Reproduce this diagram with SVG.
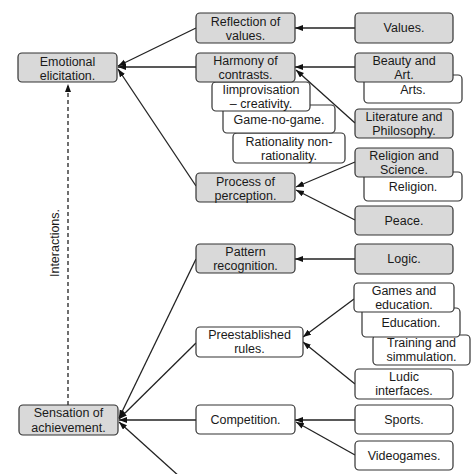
<svg xmlns="http://www.w3.org/2000/svg" width="474" height="474" viewBox="0 0 474 474">
<style>
.g rect{fill:#d9d9d9;stroke:#333;stroke-width:1.2}
.w rect{fill:#fff;stroke:#333;stroke-width:1.2}
text{font-family:"Liberation Sans",Arial,sans-serif;font-size:12.5px;fill:#1a1a1a;text-anchor:middle}
.c line{stroke:#222;stroke-width:1.3;marker-end:url(#ah)}
</style>
<defs>
<marker id="ah" markerUnits="userSpaceOnUse" markerWidth="9" markerHeight="7" refX="8" refY="3" orient="auto"><path d="M0,0 L8,3 L0,6 z" fill="#111"/></marker>
</defs>
<rect width="474" height="474" fill="#fff"/>
<g class="c" id="connectors">
<line x1="68" y1="405" x2="68" y2="84" stroke-dasharray="4,3"/>
<line x1="196" y1="28" x2="118" y2="66"/>
<line x1="196" y1="67" x2="118" y2="67"/>
<line x1="196" y1="186" x2="118" y2="69"/>
<line x1="355" y1="28" x2="295" y2="28"/>
<line x1="355" y1="67" x2="295" y2="67"/>
<line x1="355" y1="123" x2="296" y2="70"/>
<line x1="355" y1="162" x2="296" y2="187"/>
<line x1="355" y1="220" x2="296" y2="190"/>
<line x1="196" y1="259" x2="119" y2="418"/>
<line x1="196" y1="343" x2="119" y2="419"/>
<line x1="196" y1="420" x2="119" y2="420"/>
<line x1="180" y1="477" x2="119" y2="422"/>
<line x1="355" y1="259" x2="295" y2="259"/>
<line x1="354" y1="299" x2="303" y2="337"/>
<line x1="355" y1="384" x2="303" y2="342"/>
<line x1="355" y1="420" x2="295" y2="420"/>
<line x1="355" y1="455" x2="296" y2="422"/>
</g>
<text transform="translate(59,243) rotate(-90)">Interactions.</text>
<g id="emotional" class="g"><rect x="18" y="53" width="99" height="29" rx="4"/><text x="67.5" y="66">Emotional</text><text x="67.5" y="80">elicitation.</text></g>
<g id="sensation" class="g"><rect x="19" y="405" width="99" height="30" rx="4"/><text x="68.5" y="417">Sensation of</text><text x="68.5" y="432">achievement.</text></g>
<g id="reflection" class="g"><rect x="196" y="13" width="99" height="30" rx="4"/><text x="245.5" y="26">Reflection of</text><text x="245.5" y="40">values.</text></g>
<g id="rationality" class="w"><rect x="233" y="133" width="112" height="30" rx="4"/><text x="289" y="146">Rationality non-</text><text x="289" y="160">rationality.</text></g>
<g id="gamenogame" class="w"><rect x="223" y="105" width="112" height="28" rx="4"/><text x="279" y="124">Game-no-game.</text></g>
<g id="improvisation" class="w"><rect x="212" y="82" width="98" height="29" rx="4"/><text x="261" y="94">Iimprovisation</text><text x="261" y="108">– creativity.</text></g>
<g id="harmony" class="g"><rect x="196" y="53" width="99" height="29" rx="4"/><text x="245.5" y="65">Harmony of</text><text x="245.5" y="79">contrasts.</text></g>
<g id="perception" class="g"><rect x="196" y="173" width="99" height="29" rx="4"/><text x="245.5" y="186">Process of</text><text x="245.5" y="200">perception.</text></g>
<g id="values" class="g"><rect x="355" y="13" width="98" height="30" rx="4"/><text x="404" y="32">Values.</text></g>
<g id="arts" class="w"><rect x="364" y="75" width="98" height="28" rx="4"/><text x="413" y="93.5">Arts.</text></g>
<g id="beauty" class="g"><rect x="355" y="53" width="98" height="29" rx="4"/><text x="404" y="65">Beauty and</text><text x="404" y="79">Art.</text></g>
<g id="literature" class="g"><rect x="355" y="109" width="98" height="29" rx="4"/><text x="404" y="121">Literature and</text><text x="404" y="135">Philosophy.</text></g>
<g id="religion" class="w"><rect x="364" y="172" width="98" height="29" rx="4"/><text x="413" y="191">Religion.</text></g>
<g id="religionscience" class="g"><rect x="355" y="148" width="98" height="29" rx="4"/><text x="404" y="159.5">Religion and</text><text x="404" y="173.5">Science.</text></g>
<g id="peace" class="g"><rect x="355" y="206" width="98" height="29" rx="4"/><text x="404" y="225">Peace.</text></g>
<g id="pattern" class="g"><rect x="196" y="244" width="99" height="29" rx="4"/><text x="245.5" y="256">Pattern</text><text x="245.5" y="270">recognition.</text></g>
<g id="preestablished" class="w"><rect x="196" y="327" width="107" height="30" rx="4"/><text x="249.5" y="338.5">Preestablished</text><text x="249.5" y="353">rules.</text></g>
<g id="competition" class="w"><rect x="196" y="405" width="99" height="29" rx="4"/><text x="245.5" y="424">Competition.</text></g>
<g id="logic" class="g"><rect x="355" y="244" width="98" height="30" rx="4"/><text x="404" y="263">Logic.</text></g>
<g id="training" class="w"><rect x="373" y="335" width="97" height="30" rx="4"/><text x="421.5" y="347">Training and</text><text x="421.5" y="361">simmulation.</text></g>
<g id="education" class="w"><rect x="362" y="308" width="98" height="29" rx="4"/><text x="411" y="327">Education.</text></g>
<g id="gameseducation" class="w"><rect x="354" y="283" width="100" height="29" rx="4"/><text x="404" y="294.5">Games and</text><text x="404" y="309">education.</text></g>
<g id="ludic" class="w"><rect x="355" y="369" width="98" height="30" rx="4"/><text x="404" y="380.5">Ludic</text><text x="404" y="395">interfaces.</text></g>
<g id="sports" class="w"><rect x="355" y="405" width="98" height="29" rx="4"/><text x="404" y="424">Sports.</text></g>
<g id="videogames" class="w"><rect x="355" y="441" width="98" height="29" rx="4"/><text x="404" y="459.5">Videogames.</text></g>
</svg>
